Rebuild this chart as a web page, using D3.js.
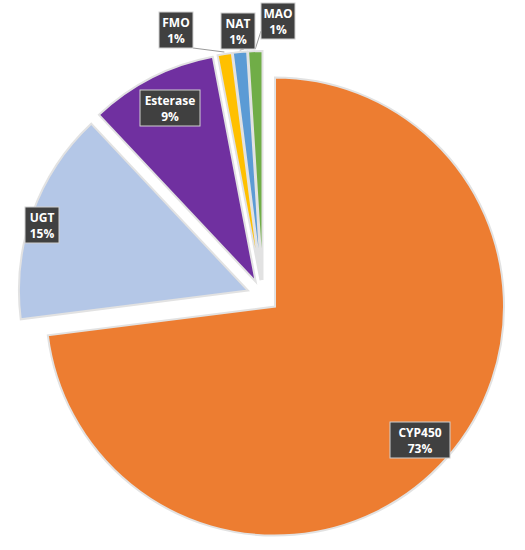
<!DOCTYPE html>
<html>
<head>
<meta charset="utf-8">
<script src="https://cdn.jsdelivr.net/npm/d3@7"></script>
<style>
  body { margin: 0; background: #fff; }
  text { font-family: "Open Sans", "DejaVu Sans", sans-serif; font-weight: bold; }
</style>
</head>
<body>
<script>
var categories = ["CYP450", "UGT", "Esterase", "FMO", "NAT", "MAO"];
var values = [73, 15, 9, 1, 1, 1];
var colors = ["#ED7D31", "#B4C7E7", "#7030A0", "#FFC000", "#5B9BD5", "#70AD47"];

// label box centres (layout only)
var labelPos = [[420, 440], [42, 225], [170, 108], [176, 30], [238, 31], [278, 21]];

var w = 525, h = 550, r = 229, explode = 16;
var cx = 263, cy = 296;

var svg = d3.select("body").append("svg").attr("width", w).attr("height", h);
var pie = d3.pie().sort(null).value(function (d) { return d; });
var arc = d3.arc().innerRadius(0).outerRadius(r);
var arcs = pie(values);

function offset(d) {
  var a = (d.startAngle + d.endAngle) / 2;
  return [cx + explode * Math.sin(a), cy - explode * Math.cos(a)];
}

svg.selectAll("path").data(arcs).enter().append("path")
  .attr("transform", function (d) { var o = offset(d); return "translate(" + o[0] + "," + o[1] + ")"; })
  .attr("d", arc)
  .attr("fill", function (d, i) { return colors[i]; })
  .attr("stroke", "#e2e2e2")
  .attr("stroke-width", 2);

// leader lines for small slices
arcs.forEach(function (d, i) {
  if (values[i] > 2) return;
  var o = offset(d);
  var a = (d.startAngle + d.endAngle) / 2;
  var px = o[0] + (r + 2) * Math.sin(a), py = o[1] - (r + 2) * Math.cos(a);
  var lp = labelPos[i];
  var sx = i === 5 ? lp[0] - 17 : (i === 3 ? lp[0] + 17 : lp[0] + 6);
  var sy = i === 5 ? lp[1] + 10 : lp[1] + 18;
  svg.append("line")
    .attr("x1", sx).attr("y1", sy).attr("x2", px).attr("y2", py)
    .attr("stroke", "#999").attr("stroke-width", 1);
});

var g = svg.selectAll("g.lab").data(categories).enter().append("g")
  .attr("class", "lab")
  .attr("transform", function (d, i) { return "translate(" + labelPos[i][0] + "," + labelPos[i][1] + ")"; });

g.each(function (d, i) {
  var bw = d.length > 4 ? 60 : (d.length > 3 ? 50 : 34);
  var sel = d3.select(this);
  sel.append("rect").attr("x", -bw / 2).attr("y", -18).attr("width", bw).attr("height", 36)
    .attr("fill", "#404040").attr("stroke", "#d0d0d0").attr("stroke-width", 1);
  sel.append("text").attr("text-anchor", "middle").attr("y", -3).attr("fill", "#fff")
    .attr("font-size", 12).text(d);
  sel.append("text").attr("text-anchor", "middle").attr("y", 13).attr("fill", "#fff")
    .attr("font-size", 12).text(values[i] + "%");
});
</script>
</body>
</html>
